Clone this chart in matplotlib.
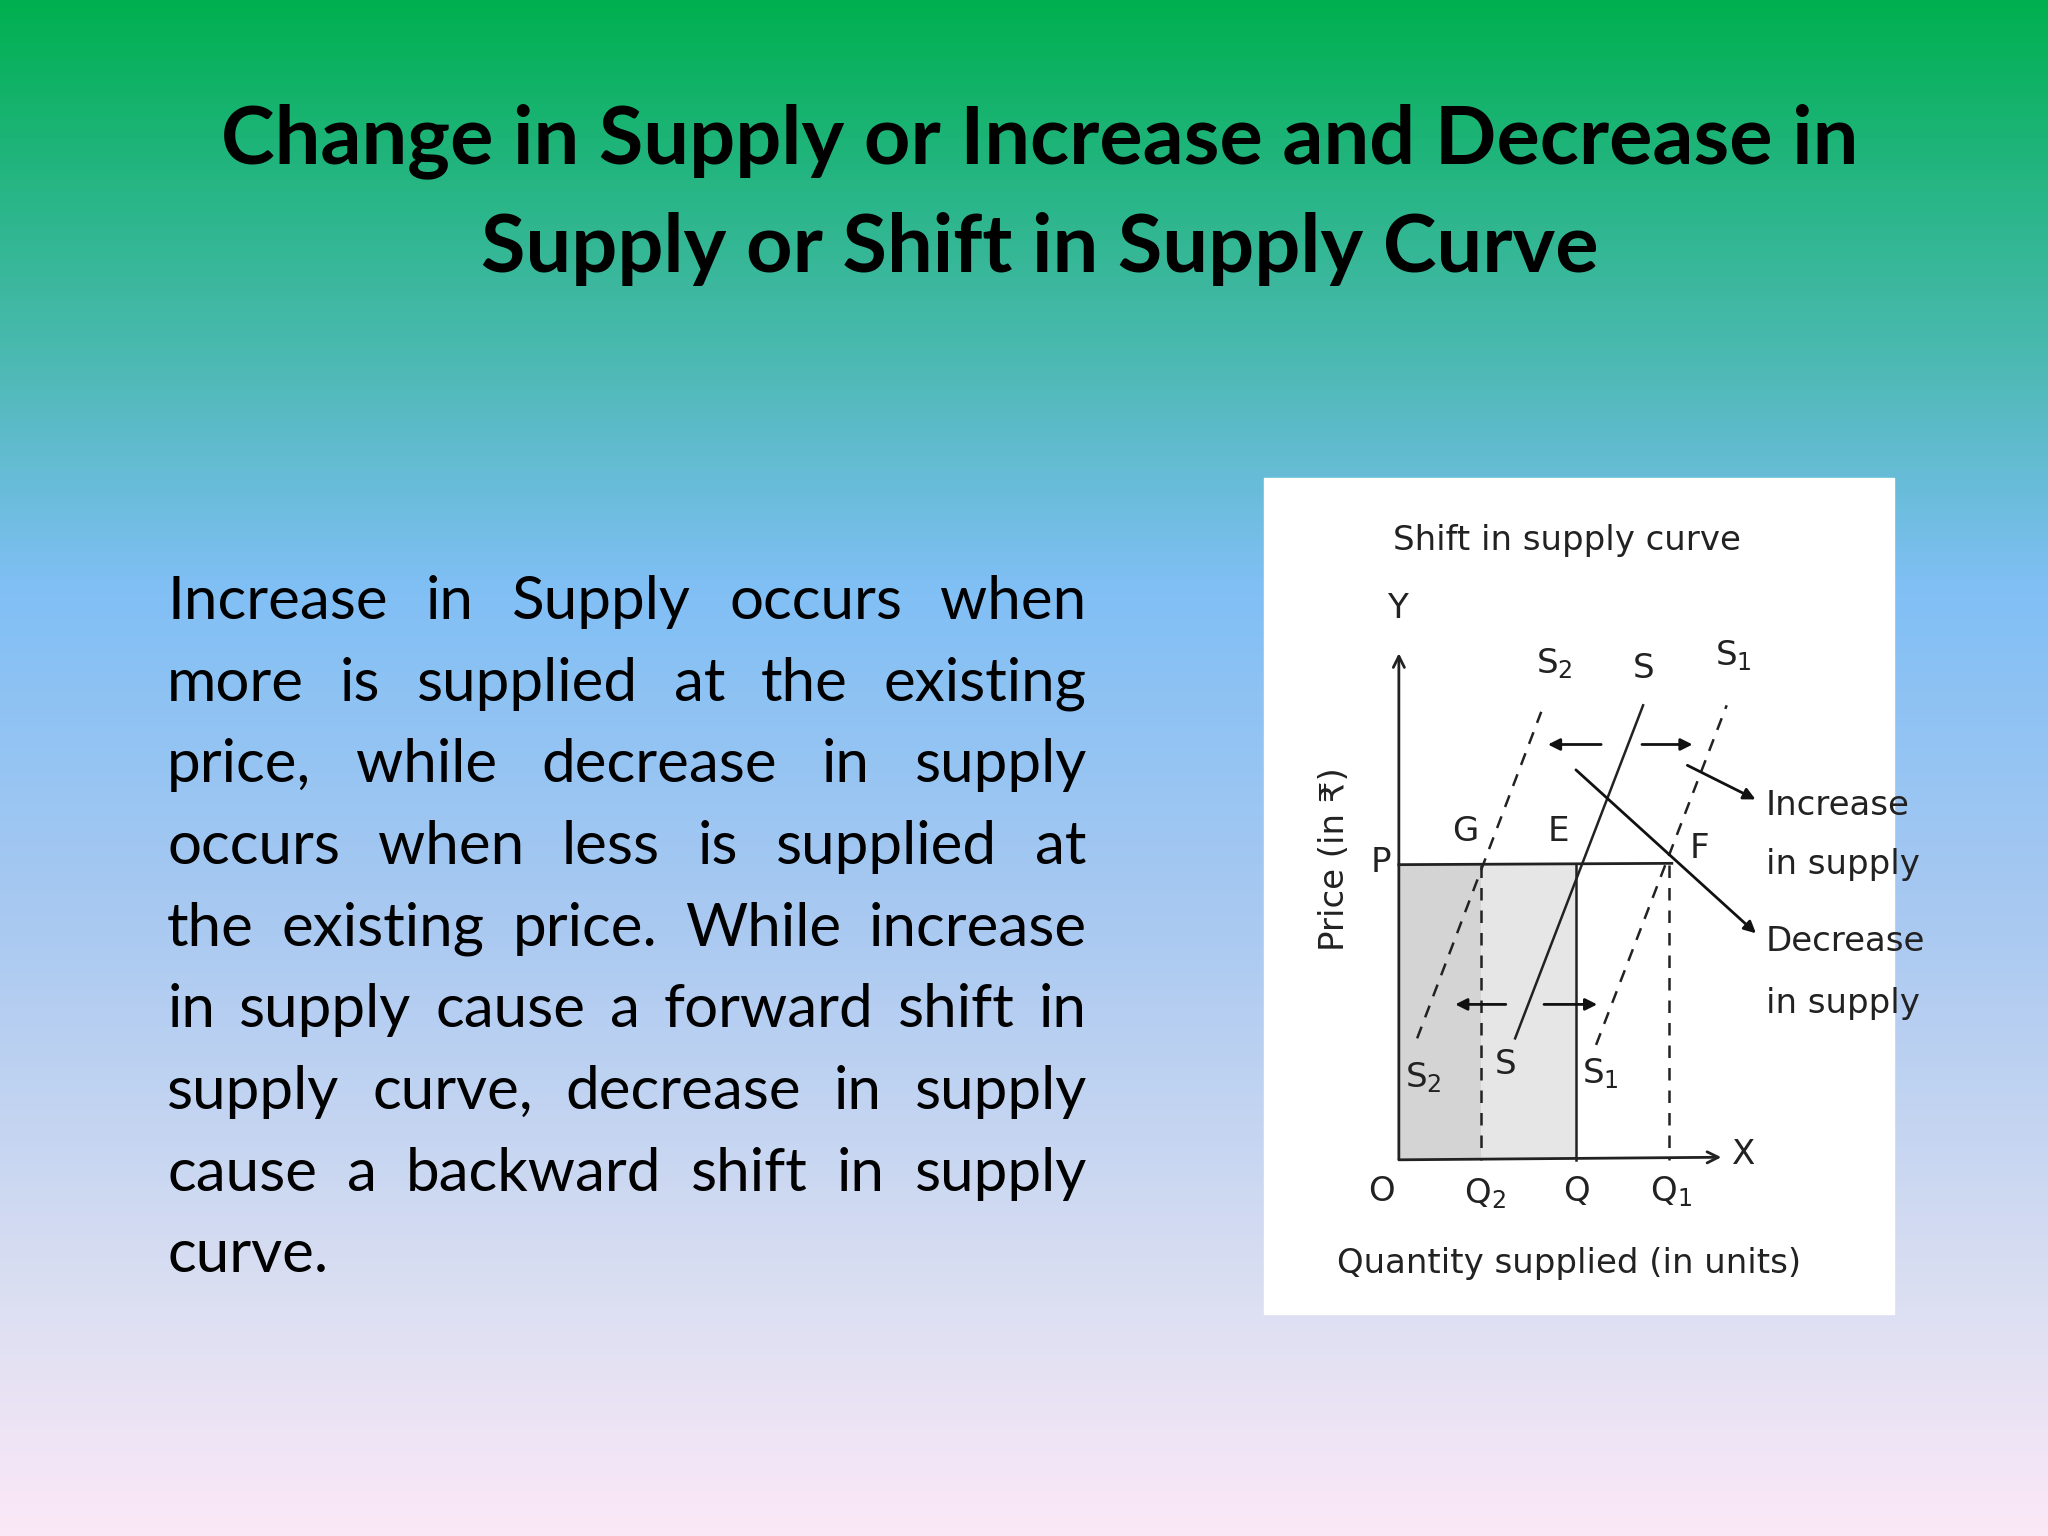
import matplotlib
matplotlib.use("Agg")
import matplotlib.pyplot as plt
import numpy as np
from matplotlib.colors import LinearSegmentedColormap

title_lines = ["Change in Supply or Increase and Decrease in", "Supply or Shift in Supply Curve"]
body_lines = ["Increase in Supply occurs when", "more is supplied at the existing",
              "price, while decrease in supply", "occurs when less is supplied at",
              "the existing price. While increase", "in supply cause a forward shift in",
              "supply curve, decrease in supply", "cause a backward shift in supply", "curve."]
diagram_title = "Shift in supply curve"
x_label = "Quantity supplied (in units)"
y_label = "Price (in ₹)"

W, H = 1568, 1176
S = 2048 / W
fig = plt.figure(figsize=(20.48, 15.36), dpi=100)
ax = fig.add_axes([0, 0, 1, 1])
ax.set_xlim(0, W); ax.set_ylim(H, 0); ax.axis("off")

stops = [(0, "#00b050"), (0.13, "#2ab689"), (0.22, "#48b9ad"), (0.3, "#63bcd2"),
         (0.38, "#80bff5"), (0.6, "#a9c9f1"), (0.85, "#dcdff2"), (1.0, "#fbe8f7")]
cmap = LinearSegmentedColormap.from_list("bg", stops)
grad = np.linspace(0, 1, 512).reshape(-1, 1)
ax.imshow(grad, cmap=cmap, extent=[0, W, H, 0], aspect="auto", zorder=0)

fp = lambda px: px * S * 0.72
for i, t in enumerate(title_lines):
    ax.text(W / 2 + 12, 108 + 83 * i, t, ha="center", va="center", fontsize=fp(62),
            fontweight="bold", family="Lato", color="black", zorder=2)

# body justified
fig.canvas.draw()
r = fig.canvas.get_renderer()
left, right = 128, 832
bfs = fp(46)
for i, line in enumerate(body_lines):
    y = 474 + 62.5 * i
    words = line.split()
    if len(words) == 1 or i == len(body_lines) - 1:
        ax.text(left, y, line, fontsize=bfs, family="Lato", va="baseline", zorder=2)
        continue
    widths = []
    for w in words:
        t = ax.text(0, 0, w, fontsize=bfs, family="Lato")
        widths.append(t.get_window_extent(r).width / S)
        t.remove()
    gap = (right - left - sum(widths)) / (len(words) - 1)
    x = left
    for w, wd in zip(words, widths):
        ax.text(x, y, w, fontsize=bfs, family="Lato", va="baseline", zorder=2)
        x += wd + gap

# diagram
ax.add_patch(plt.Rectangle((968, 366), 482, 640, color="white", zorder=1))
ax.add_patch(plt.Rectangle((1071, 662), 63, 226, color="#d4d4d4", zorder=2, lw=0))
ax.add_patch(plt.Rectangle((1134, 662), 73, 226, color="#e6e6e6", zorder=2, lw=0))
k = dict(color="#222222", zorder=3)
dfam = "Liberation Sans Narrow" if False else "DejaVu Sans"
ax.annotate("", xy=(1071, 498), xytext=(1071, 890), arrowprops=dict(arrowstyle="->,head_width=0.4,head_length=0.8", lw=2, color="#222"), zorder=3)
ax.annotate("", xy=(1320, 886), xytext=(1069, 888), arrowprops=dict(arrowstyle="->,head_width=0.4,head_length=0.8", lw=2, color="#222"), zorder=3)
ax.plot([1071, 1280], [662, 661], lw=2, **k)
ax.plot([1160, 1258], [795, 540], lw=1.8, **k)
ax.plot([1085, 1180], [795, 545], lw=1.8, ls=(0, (5, 4)), **k)
ax.plot([1222, 1322], [800, 540], lw=1.8, ls=(0, (5, 4)), **k)
ax.plot([1134, 1134], [662, 888], lw=1.8, ls=(0, (5, 4)), **k)
ax.plot([1207, 1207], [662, 888], lw=1.8, **k)
ax.plot([1278, 1278], [662, 888], lw=1.8, ls=(0, (5, 4)), **k)
arr = dict(arrowstyle="-|>,head_width=0.35,head_length=0.7", lw=2, color="#111")
for a, b in [((1228, 570), (1183, 570)), ((1255, 570), (1298, 570)),
             ((1155, 769), (1112, 769)), ((1180, 769), (1225, 769)),
             ((1290, 585), (1346, 613)), ((1205, 588), (1346, 716))]:
    ax.annotate("", xy=b, xytext=a, arrowprops=arr, zorder=4)
tk = dict(ha="center", va="center", fontsize=fp(26), family="DejaVu Sans", color="#222", zorder=4)
ax.text(1200, 414, diagram_title, **tk)
for s, x, y in [("Y", 1070, 466), ("X", 1335, 884), ("O", 1058, 912), ("P", 1057, 660),
                (r"S$_2$", 1190, 508), ("S", 1258, 512), (r"S$_1$", 1327, 502),
                ("G", 1122, 637), ("E", 1193, 637), ("F", 1301, 650),
                (r"S$_2$", 1090, 825), ("S", 1153, 815), (r"S$_1$", 1225, 822),
                (r"Q$_2$", 1137, 914), ("Q", 1207, 912), (r"Q$_1$", 1279, 912),
                (x_label, 1201, 967)]:
    ax.text(x, y, s, **tk)
ax.text(1022, 658, y_label, rotation=90, **tk)
for s, x, y in [("Increase", 1352, 617), ("in supply", 1352, 662),
                ("Decrease", 1352, 721), ("in supply", 1352, 768)]:
    ax.text(x, y, s, ha="left", va="center", fontsize=fp(26), family="DejaVu Sans", color="#222", zorder=4)

fig.savefig("out.png", dpi=100)
